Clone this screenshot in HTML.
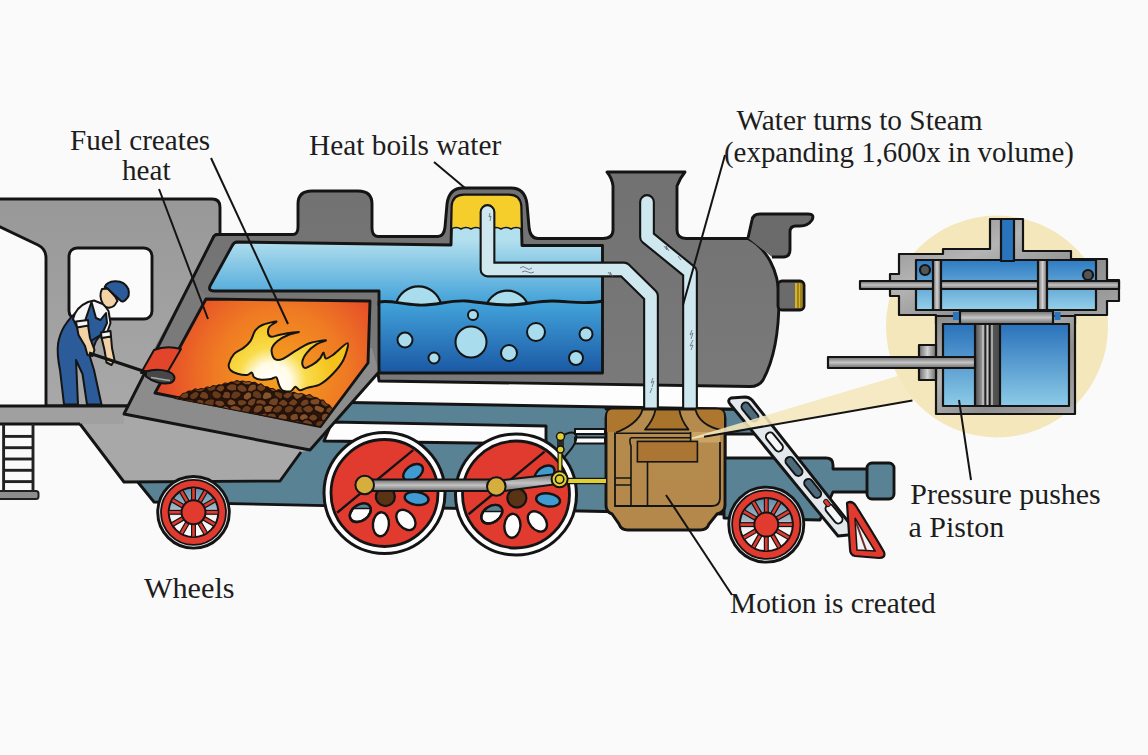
<!DOCTYPE html>
<html><head><meta charset="utf-8"><style>
html,body{margin:0;padding:0;background:#fafafa;width:1148px;height:755px;overflow:hidden}
svg{display:block}
text{font-family:"Liberation Serif",serif;font-size:29px;fill:#1d1d1d}
</style></head><body>
<svg width="1148" height="755" viewBox="0 0 1148 755">
<defs>
<linearGradient id="gCab" x1="0" y1="0" x2="0" y2="1"><stop offset="0" stop-color="#989898"/><stop offset="1" stop-color="#a8a8a8"/></linearGradient>
<linearGradient id="gBoil" gradientUnits="userSpaceOnUse" x1="0" y1="190" x2="0" y2="450"><stop offset="0" stop-color="#727272"/><stop offset="1" stop-color="#7c7c7c"/></linearGradient>
<linearGradient id="gSteam" gradientUnits="userSpaceOnUse" x1="0" y1="240" x2="0" y2="305"><stop offset="0" stop-color="#b3e0ee"/><stop offset="1" stop-color="#3e9fd8"/></linearGradient>
<linearGradient id="gWater" gradientUnits="userSpaceOnUse" x1="0" y1="300" x2="0" y2="373"><stop offset="0" stop-color="#44a6dc"/><stop offset="1" stop-color="#1a58a4"/></linearGradient>
<radialGradient id="gFire" gradientUnits="userSpaceOnUse" cx="280" cy="375" r="120"><stop offset="0" stop-color="#f6a21e"/><stop offset="0.55" stop-color="#ef7a23"/><stop offset="1" stop-color="#e4482a"/></radialGradient>
<radialGradient id="gFlame" gradientUnits="userSpaceOnUse" cx="272" cy="382" r="62"><stop offset="0" stop-color="#ffffff"/><stop offset="0.3" stop-color="#fffbe8"/><stop offset="0.55" stop-color="#f9dc4a"/><stop offset="1" stop-color="#f5c21c"/></radialGradient>
<linearGradient id="gMetal" x1="0" y1="0" x2="0" y2="1"><stop offset="0" stop-color="#6c6c6c"/><stop offset="0.5" stop-color="#c4c4c4"/><stop offset="1" stop-color="#6c6c6c"/></linearGradient>
<linearGradient id="gChest" x1="0" y1="0" x2="1" y2="1"><stop offset="0" stop-color="#8a8a8a"/><stop offset="0.35" stop-color="#b4b4b4"/><stop offset="0.65" stop-color="#8e8e8e"/><stop offset="1" stop-color="#a8a8a8"/></linearGradient>
<linearGradient id="gMetalD" x1="0" y1="0" x2="1" y2="0"><stop offset="0" stop-color="#4a4a4a"/><stop offset="0.3" stop-color="#9a9a9a"/><stop offset="0.6" stop-color="#5a5a5a"/><stop offset="1" stop-color="#4a4a4a"/></linearGradient>
<linearGradient id="gMetalV" x1="0" y1="0" x2="1" y2="0"><stop offset="0" stop-color="#6c6c6c"/><stop offset="0.5" stop-color="#d2d2d2"/><stop offset="1" stop-color="#6c6c6c"/></linearGradient>
<linearGradient id="gCyl" x1="0" y1="0" x2="0" y2="1"><stop offset="0" stop-color="#2a72bb"/><stop offset="1" stop-color="#8ccbe7"/></linearGradient>
<linearGradient id="gCyl2" x1="0" y1="0" x2="0" y2="1"><stop offset="0" stop-color="#2e7bc2"/><stop offset="1" stop-color="#94d0e9"/></linearGradient>
<linearGradient id="gSpokeBg" x1="0" y1="0" x2="0" y2="1"><stop offset="0" stop-color="#5f8eab"/><stop offset="0.42" stop-color="#9fb8c6"/><stop offset="0.58" stop-color="#f2f2f2"/><stop offset="1" stop-color="#fbfbfb"/></linearGradient>
<linearGradient id="gBrown" x1="0" y1="0" x2="0" y2="1"><stop offset="0" stop-color="#b68c4e"/><stop offset="1" stop-color="#b3884a"/></linearGradient>
<clipPath id="cpCoal"><path d="M180,397 C188,392 196,391 205,389 C215,387 222,385 232,383 C240,382 248,382 256,384 C265,387 272,390 280,392 C290,394 300,395 311,397 C319,399 326,404 332,409 L320,426 L175,398 Z"/></clipPath>
</defs>
<rect width="1148" height="755" fill="#fafafa"/>

<circle cx="997" cy="326.5" r="111" fill="#f4e7bb"/>
<path d="M-5,199 H212 Q220,199 220,207 V240 L150,406 H46 V258 Q46,249 38,245 L-5,224.6 Z" fill="url(#gCab)" stroke="#141414" stroke-width="2.9"/>
<rect x="69" y="248" width="83" height="71" rx="8" fill="#fbfbfb" stroke="#141414" stroke-width="2.9"/>
<polygon points="0,406 130,406 124,414 124,424 0,424" fill="#a0a0a0"/>
<path d="M0,406 H130 M0,424 H80" stroke="#141414" stroke-width="2.9"/>
<g stroke="#222" stroke-width="2.9" fill="none"><line x1="3.6" y1="424" x2="3.6" y2="492"/><line x1="33" y1="424" x2="33" y2="492"/><line x1="3.6" y1="436.4" x2="33" y2="436.4"/><line x1="3.6" y1="447.7" x2="33" y2="447.7"/><line x1="3.6" y1="459" x2="33" y2="459"/><line x1="3.6" y1="470.3" x2="33" y2="470.3"/><line x1="3.6" y1="481.6" x2="33" y2="481.6"/></g>
<rect x="-3" y="491" width="41.5" height="8" rx="2.5" fill="#8e8e8e" stroke="#222" stroke-width="2"/>
<path d="M137,481 L300,401 L606,406 L606,409 L745,409 L764,434 L725,434 L725,514 L154,502 Z" fill="#5a8295" stroke="#141414" stroke-width="2.9" stroke-linejoin="round"/>
<polygon points="330,382 757,388 757,409 330,402" fill="#fdfdfd"/>
<line x1="320" y1="402" x2="757" y2="409.5" stroke="#141414" stroke-width="2.9"/>
<polygon points="332,422 546,426 546,444 324,441" fill="#fdfdfd" stroke="#141414" stroke-width="2.9" stroke-linejoin="round"/>
<rect x="575" y="429" width="30" height="5" fill="#fdfdfd" stroke="#141414" stroke-width="2"/>
<rect x="575" y="437.5" width="30" height="6" fill="#fdfdfd" stroke="#141414" stroke-width="2"/>
<path d="M724,458 H826 Q833,458 833,465 V469 H868 V492 H833 L820,520 L724,518 Z" fill="#5a8295" stroke="#141414" stroke-width="2.9" stroke-linejoin="round"/>
<rect x="867" y="463" width="27" height="36" rx="5" fill="#5a8295" stroke="#141414" stroke-width="2.9"/>
<polygon points="80,424 124,424 124,414 312,450 301,452 280,481 124,482" fill="#a8a8a8"/>
<polyline points="80,424 124,482 280,481 301,452" fill="none" stroke="#141414" stroke-width="2.9" stroke-linejoin="round"/>
<path d="M216,234.5 H292 Q298,235 298,227 V204 Q298,191 312,191 H358 Q372,191 372,204 V228 Q372,236.5 378,236.5 H437 Q444,237 445,227 L447,204 Q449,188 463,188 H511 Q525,188 527,204 L529,227 Q530,238.5 538,238.5 H603 Q613,238.5 613,230 V186 Q612,178 607,172 H685 Q680,178 677,186 V230 Q677,238.5 686,238.5 H748 C766,248 779,270 779,298 C779,330 774,360 763,380 Q759,386.5 750,386.5 L379,381 L378,373 L310,450 L124,414 L213,238 Q214,234.5 218,234.5 Z" fill="url(#gBoil)"/>
<polygon points="160,348 372,348 379,373 310,450 124,414" fill="#8c8c8c"/>
<path d="M190,282 L207,296 L181,348 L154,349 Z" fill="#7a7a7a"/>
<path d="M216,234.5 H292 Q298,235 298,227 V204 Q298,191 312,191 H358 Q372,191 372,204 V228 Q372,236.5 378,236.5 H437 Q444,237 445,227 L447,204 Q449,188 463,188 H511 Q525,188 527,204 L529,227 Q530,238.5 538,238.5 H603 Q613,238.5 613,230 V186 Q612,178 607,172 H685 Q680,178 677,186 V230 Q677,238.5 686,238.5 H748 C766,248 779,270 779,298 C779,330 774,360 763,380 Q759,386.5 750,386.5 L379,381 L378,373 L310,450 L124,414 L213,238 Q214,234.5 218,234.5 Z" fill="none" stroke="#141414" stroke-width="2.9" stroke-linejoin="round"/>
<path d="M748,238 L752,220 Q753,214 760,214 H808 Q815,214 812,220 Q808,226 800,226 H796 Q790,226 790,232 V250 Q790,257 783,257 H772" fill="#6b6b6b" stroke="#141414" stroke-width="2.9" stroke-linejoin="round"/>
<rect x="778" y="281" width="26" height="29" rx="4" fill="#6b6b6b"/>
<rect x="795" y="283" width="9" height="25" fill="#d8b22a"/>
<line x1="798" y1="283" x2="798" y2="308" stroke="#6b5410" stroke-width="1"/><line x1="801" y1="283" x2="801" y2="308" stroke="#6b5410" stroke-width="1"/>
<rect x="778" y="281" width="26" height="29" rx="4" fill="none" stroke="#141414" stroke-width="2.9"/>
<path d="M237,242 L451,245 L452,206 Q453,195 464,195 H509 Q520,195 521,206 L522,245.5 H602.5 V305 H379 V291 H214 Q208,291 210,286 L232,246 Q234,242 237,242 Z" fill="url(#gSteam)" stroke="#141414" stroke-width="2.9" stroke-linejoin="round"/>
<path d="M451.5,229 L452,206 Q453,195 464,195 H509 Q520,195 521,206 L521.5,229 Q516,226 511,229 Q506,226 501,229 Q496,226 491,229 Q486,226 481,229 Q476,226 471,229 Q466,226 461,229 Q456,226 451.5,229 Z" fill="#f6ce2c" stroke="#141414" stroke-width="1.5"/>
<path d="M396,304 A23.2,23.2 0 0 1 441,304 Z" fill="#a9dcec"/>
<path d="M486.5,305 A22.2,22.2 0 0 1 528,305 Z" fill="#a9dcec"/>
<path d="M396,304 A23.2,23.2 0 0 1 441,304 M486.5,305 A22.2,22.2 0 0 1 528,305" fill="none" stroke="#141414" stroke-width="2.2"/>
<path d="M379,302 C390,300 400,304 418,305 C436,306 448,300 466,301 C480,302 492,305 508,305 C524,305 536,301 552,301 C568,301 584,305 602.5,301 V373 H379 Z" fill="url(#gWater)" stroke="#141414" stroke-width="2.9" stroke-linejoin="round"/>
<g fill="#a9dcec" stroke="#141414" stroke-width="2"><circle cx="473" cy="315" r="5"/><circle cx="405" cy="340" r="7.5"/><circle cx="471" cy="342" r="15.5"/><circle cx="536" cy="332" r="9"/><circle cx="586" cy="334" r="6.5"/><circle cx="434" cy="358" r="5.5"/><circle cx="509" cy="353" r="8"/><circle cx="576" cy="358" r="7"/></g>
<polygon points="206,299 370,301 368,363 320.5,426.5 155,393" fill="url(#gFire)" stroke="#141414" stroke-width="2.9" stroke-linejoin="round"/>
<path d="M154,350 Q166,345 181,349 L167,373 L141,373 Z" fill="#e3452a" stroke="#141414" stroke-width="2" stroke-linejoin="round"/>
<clipPath id="cpCoal2"><path d="M180.0,397.0 L183.0,393.8 L186.0,393.0 L189.0,391.3 L192.0,391.5 L195.0,389.2 L198.0,390.0 L201.0,388.9 L204.0,389.5 L207.0,387.3 L210.0,388.0 L213.0,386.0 L216.0,386.5 L219.0,385.1 L222.0,385.5 L225.0,383.3 L228.0,384.0 L231.0,382.4 L234.0,382.5 L237.0,380.9 L240.0,382.0 L243.0,381.4 L246.0,382.5 L249.0,381.8 L252.0,383.0 L255.0,382.7 L258.0,385.0 L261.0,384.2 L264.0,387.0 L267.0,387.1 L270.0,389.0 L273.0,388.9 L276.0,391.0 L279.0,389.9 L282.0,392.0 L286.0,390.8 L290.0,393.5 L294.0,392.5 L298.0,394.5 L302.0,394.0 L306.0,396.0 L309.5,394.8 L313.0,397.5 L316.5,398.1 L320.0,400.5 L323.0,400.4 L326.0,404.0 L329.0,405.4 L332.0,409.0 L320,426 L175,398 Z"/></clipPath>
<path d="M180.0,397.0 L183.0,393.8 L186.0,393.0 L189.0,391.3 L192.0,391.5 L195.0,389.2 L198.0,390.0 L201.0,388.9 L204.0,389.5 L207.0,387.3 L210.0,388.0 L213.0,386.0 L216.0,386.5 L219.0,385.1 L222.0,385.5 L225.0,383.3 L228.0,384.0 L231.0,382.4 L234.0,382.5 L237.0,380.9 L240.0,382.0 L243.0,381.4 L246.0,382.5 L249.0,381.8 L252.0,383.0 L255.0,382.7 L258.0,385.0 L261.0,384.2 L264.0,387.0 L267.0,387.1 L270.0,389.0 L273.0,388.9 L276.0,391.0 L279.0,389.9 L282.0,392.0 L286.0,390.8 L290.0,393.5 L294.0,392.5 L298.0,394.5 L302.0,394.0 L306.0,396.0 L309.5,394.8 L313.0,397.5 L316.5,398.1 L320.0,400.5 L323.0,400.4 L326.0,404.0 L329.0,405.4 L332.0,409.0 L320,426 L175,398 Z" fill="#2e170a" stroke="#24110a" stroke-width="1.8" stroke-linejoin="round"/>
<g clip-path="url(#cpCoal2)" stroke="#24110a" stroke-width="1.6"><path d="M178.3,379.1 C178.7,380.1 178.1,381.7 177.3,382.5 C176.6,383.3 175.3,383.8 173.9,384.0 C172.6,384.2 170.3,384.5 169.4,383.9 C168.5,383.2 168.1,381.3 168.4,380.1 C168.7,378.9 170.0,377.5 171.1,376.8 C172.2,376.1 173.9,375.6 175.1,376.0 C176.3,376.3 177.9,378.0 178.3,379.1 Z" fill="#7b4a26"/><path d="M188.1,380.6 C188.2,381.6 187.4,382.6 186.5,383.3 C185.6,384.0 184.0,385.0 182.6,384.9 C181.3,384.9 179.0,383.7 178.2,382.9 C177.5,382.0 177.4,380.9 178.2,379.8 C178.9,378.8 181.3,377.0 182.6,376.6 C183.9,376.2 185.3,376.9 186.2,377.5 C187.1,378.2 188.1,379.7 188.1,380.6 Z" fill="#85532c"/><path d="M200.0,381.1 C200.1,382.2 199.6,383.8 198.3,384.5 C197.1,385.2 193.9,385.4 192.6,385.2 C191.3,385.0 190.7,384.1 190.4,383.1 C190.0,382.1 190.1,380.2 190.7,379.2 C191.2,378.2 192.6,377.4 193.7,377.2 C194.8,376.9 196.3,377.0 197.4,377.6 C198.4,378.2 199.8,379.9 200.0,381.1 Z" fill="#643a1c"/><path d="M209.2,378.6 C209.7,379.7 209.2,382.3 208.3,383.3 C207.5,384.3 205.2,384.6 204.0,384.7 C202.7,384.8 201.7,384.8 200.8,383.9 C200.0,383.1 198.8,380.8 198.9,379.8 C199.0,378.8 200.3,378.4 201.4,377.8 C202.5,377.3 204.3,376.4 205.6,376.6 C206.9,376.7 208.7,377.5 209.2,378.6 Z" fill="#85532c"/><path d="M221.3,380.8 C221.4,381.7 221.6,382.8 220.4,383.4 C219.2,383.9 215.7,384.3 214.2,384.0 C212.7,383.7 212.0,382.6 211.6,381.6 C211.2,380.6 211.1,378.8 211.7,378.0 C212.4,377.2 214.4,376.8 215.7,376.7 C217.0,376.7 218.5,377.0 219.4,377.7 C220.4,378.3 221.1,379.8 221.3,380.8 Z" fill="#85532c"/><path d="M230.4,378.8 C230.8,379.6 230.8,380.6 230.3,381.4 C229.7,382.2 228.3,383.4 227.1,383.8 C225.8,384.3 223.7,384.6 222.9,383.9 C222.0,383.2 221.9,381.0 222.1,379.9 C222.2,378.8 222.9,378.0 223.9,377.5 C224.9,377.0 226.9,376.7 228.0,376.9 C229.1,377.1 230.1,378.1 230.4,378.8 Z" fill="#85532c"/><path d="M242.2,379.1 C242.2,380.0 241.5,381.8 240.9,382.8 C240.3,383.8 239.9,384.7 238.8,384.9 C237.6,385.0 234.9,384.4 234.0,383.8 C233.0,383.1 233.0,382.0 233.2,381.0 C233.4,380.0 233.8,378.2 235.0,377.6 C236.3,376.9 239.3,376.8 240.5,377.1 C241.7,377.3 242.1,378.1 242.2,379.1 Z" fill="#643a1c"/><path d="M252.2,381.9 C252.0,382.8 251.2,384.5 250.0,385.0 C248.8,385.5 246.4,385.1 245.2,384.9 C243.9,384.6 242.9,384.3 242.5,383.4 C242.1,382.5 242.3,380.6 242.9,379.6 C243.4,378.7 244.4,377.8 245.7,377.7 C247.1,377.7 250.1,378.5 251.2,379.2 C252.3,379.9 252.4,380.9 252.2,381.9 Z" fill="#85532c"/><path d="M262.1,384.4 C261.8,385.2 260.1,385.1 258.9,385.1 C257.7,385.1 256.0,385.0 254.7,384.4 C253.4,383.8 251.5,382.7 251.2,381.5 C250.9,380.3 251.9,377.9 252.8,377.2 C253.7,376.4 255.5,376.6 256.8,377.1 C258.2,377.7 260.0,379.2 260.9,380.4 C261.8,381.6 262.5,383.6 262.1,384.4 Z" fill="#6e4020"/><path d="M273.8,380.4 C274.0,381.4 273.6,383.3 272.8,384.2 C271.9,385.0 270.2,385.4 268.7,385.3 C267.1,385.3 264.3,384.7 263.5,384.1 C262.6,383.5 263.4,382.7 263.7,381.7 C264.0,380.7 264.1,378.8 265.4,378.2 C266.6,377.5 269.9,377.7 271.3,378.1 C272.7,378.4 273.5,379.4 273.8,380.4 Z" fill="#704222"/><path d="M284.3,378.6 C284.6,379.6 284.0,382.3 283.0,383.4 C282.1,384.5 279.9,385.2 278.4,385.3 C277.0,385.4 275.1,384.8 274.5,384.2 C273.8,383.5 274.1,382.5 274.4,381.5 C274.8,380.6 275.5,379.0 276.6,378.4 C277.8,377.7 280.0,377.5 281.3,377.6 C282.5,377.6 284.0,377.7 284.3,378.6 Z" fill="#85532c"/><path d="M294.6,381.6 C294.4,382.9 292.8,384.3 291.7,384.7 C290.7,385.1 289.6,384.6 288.3,384.0 C286.9,383.5 284.1,382.6 283.5,381.5 C282.9,380.4 283.8,378.2 284.8,377.3 C285.7,376.5 287.9,376.5 289.2,376.4 C290.5,376.4 291.7,376.1 292.6,377.0 C293.5,377.8 294.7,380.3 294.6,381.6 Z" fill="#6e4020"/><path d="M304.3,381.4 C304.0,382.4 303.0,383.8 301.7,384.2 C300.4,384.6 297.7,384.5 296.3,384.0 C294.9,383.4 293.6,382.2 293.5,381.1 C293.3,380.1 294.4,378.2 295.3,377.5 C296.2,376.7 297.7,376.5 299.0,376.7 C300.3,376.8 302.3,377.6 303.1,378.4 C304.0,379.2 304.5,380.5 304.3,381.4 Z" fill="#85532c"/><path d="M315.0,382.2 C315.0,383.3 313.0,384.7 312.0,385.2 C310.9,385.7 309.8,385.5 308.6,385.2 C307.4,384.8 305.4,384.0 304.6,383.1 C303.9,382.2 303.5,380.8 304.1,379.9 C304.7,379.1 306.7,378.3 308.1,378.1 C309.4,377.9 310.8,378.0 312.0,378.7 C313.1,379.4 315.0,381.2 315.0,382.2 Z" fill="#7b4a26"/><path d="M325.9,379.5 C326.5,380.3 326.3,381.6 325.5,382.6 C324.8,383.5 322.9,384.8 321.4,385.1 C320.0,385.5 317.8,385.5 316.9,384.7 C316.0,383.9 315.9,381.4 316.1,380.4 C316.4,379.3 317.4,378.8 318.4,378.3 C319.3,377.8 320.7,377.2 322.0,377.4 C323.2,377.6 325.3,378.6 325.9,379.5 Z" fill="#643a1c"/><path d="M334.4,381.4 C334.1,382.4 333.2,384.4 332.1,384.8 C331.1,385.2 329.0,384.3 328.0,383.9 C327.1,383.4 326.5,383.1 326.3,382.2 C326.0,381.4 326.0,379.4 326.5,378.6 C326.9,377.7 327.5,377.2 328.8,377.2 C330.1,377.2 333.4,377.9 334.3,378.6 C335.3,379.3 334.8,380.4 334.4,381.4 Z" fill="#643a1c"/><path d="M184.6,387.0 C185.0,388.1 184.5,389.8 183.6,390.6 C182.6,391.4 180.3,391.7 178.9,391.7 C177.5,391.8 176.0,391.7 175.3,391.0 C174.5,390.2 174.1,388.2 174.4,387.2 C174.7,386.2 175.9,385.7 177.0,385.1 C178.1,384.6 179.8,383.6 181.1,383.9 C182.4,384.3 184.2,385.9 184.6,387.0 Z" fill="#85532c"/><path d="M194.9,386.3 C195.3,387.1 195.2,388.5 194.5,389.4 C193.9,390.3 192.1,391.5 190.8,391.6 C189.5,391.7 187.3,390.8 186.6,390.1 C185.8,389.3 185.9,388.1 186.3,387.2 C186.6,386.4 187.7,385.3 188.7,384.9 C189.7,384.4 191.2,384.2 192.3,384.4 C193.3,384.7 194.5,385.4 194.9,386.3 Z" fill="#704222"/><path d="M205.2,386.5 C205.6,387.5 205.5,389.0 204.7,389.9 C204.0,390.8 202.2,391.7 200.6,392.0 C199.1,392.2 196.5,391.9 195.5,391.2 C194.5,390.5 194.1,389.1 194.5,387.9 C194.9,386.6 196.7,384.6 197.9,383.9 C199.2,383.2 200.7,383.2 201.9,383.6 C203.1,384.0 204.7,385.4 205.2,386.5 Z" fill="#6e4020"/><path d="M216.7,386.3 C216.8,387.5 216.2,389.5 215.0,390.4 C213.7,391.2 210.6,391.7 209.2,391.5 C207.9,391.3 207.3,389.9 206.8,389.0 C206.3,388.2 206.0,387.3 206.3,386.5 C206.6,385.6 207.5,384.4 208.8,383.9 C210.2,383.3 213.1,382.9 214.4,383.3 C215.7,383.7 216.6,385.1 216.7,386.3 Z" fill="#643a1c"/><path d="M224.7,386.6 C225.2,387.5 224.7,389.3 224.0,390.2 C223.4,391.2 221.8,392.0 220.7,392.3 C219.5,392.7 218.2,392.7 217.4,392.2 C216.6,391.7 215.9,390.4 215.8,389.5 C215.8,388.6 216.1,387.5 217.0,386.7 C217.9,386.0 220.1,384.8 221.3,384.7 C222.6,384.7 224.3,385.7 224.7,386.6 Z" fill="#704222"/><path d="M237.9,388.6 C237.7,389.6 236.4,390.5 235.1,391.0 C233.9,391.4 231.8,391.6 230.4,391.1 C228.9,390.7 226.8,389.5 226.3,388.5 C225.8,387.6 226.3,386.3 227.2,385.5 C228.1,384.6 230.0,383.6 231.6,383.5 C233.2,383.4 235.7,384.2 236.8,385.1 C237.8,385.9 238.2,387.6 237.9,388.6 Z" fill="#704222"/><path d="M247.8,390.9 C247.6,391.8 246.0,392.0 244.8,392.2 C243.6,392.4 242.0,392.7 240.7,392.2 C239.4,391.7 237.3,390.5 236.9,389.3 C236.4,388.2 237.2,386.0 238.2,385.2 C239.2,384.4 241.5,384.1 242.8,384.5 C244.2,384.8 245.3,386.0 246.2,387.1 C247.0,388.2 248.0,390.1 247.8,390.9 Z" fill="#6e4020"/><path d="M257.4,386.7 C257.7,387.6 257.8,388.3 257.0,389.2 C256.2,390.1 254.0,391.7 252.5,392.1 C251.0,392.5 248.8,392.4 247.9,391.7 C247.1,391.1 247.3,389.5 247.6,388.4 C247.9,387.2 248.6,385.6 249.9,384.8 C251.1,384.1 253.8,383.7 255.1,384.0 C256.3,384.3 257.0,385.8 257.4,386.7 Z" fill="#7b4a26"/><path d="M265.8,387.0 C266.0,387.8 266.2,388.7 265.4,389.5 C264.5,390.4 261.9,391.9 260.6,392.0 C259.2,392.0 257.9,390.7 257.2,389.8 C256.6,388.9 256.2,387.6 256.6,386.6 C257.0,385.7 258.4,384.6 259.7,384.3 C261.0,383.9 263.4,384.1 264.4,384.5 C265.4,385.0 265.6,386.1 265.8,387.0 Z" fill="#6e4020"/><path d="M278.4,389.3 C278.0,390.3 277.5,391.8 276.4,392.1 C275.2,392.4 272.9,391.8 271.6,391.1 C270.4,390.4 268.9,389.0 268.9,387.8 C268.8,386.6 270.2,384.6 271.2,383.9 C272.2,383.1 273.8,383.0 275.0,383.4 C276.3,383.8 278.2,385.3 278.8,386.3 C279.3,387.3 278.8,388.4 278.4,389.3 Z" fill="#7b4a26"/><path d="M287.8,391.0 C287.4,392.0 285.7,392.6 284.6,392.7 C283.5,392.8 282.2,392.2 281.2,391.5 C280.2,390.9 278.8,389.7 278.5,388.8 C278.2,387.8 278.4,386.3 279.4,385.7 C280.3,385.2 283.0,385.4 284.3,385.6 C285.5,385.7 286.3,385.6 286.9,386.5 C287.5,387.4 288.2,390.0 287.8,391.0 Z" fill="#643a1c"/><path d="M298.7,387.3 C298.6,388.2 298.6,389.2 297.4,389.9 C296.3,390.7 293.4,391.8 291.8,391.8 C290.3,391.7 289.0,390.4 288.3,389.7 C287.6,388.9 287.3,388.1 287.8,387.3 C288.2,386.5 289.3,385.1 291.0,384.6 C292.6,384.2 296.4,384.1 297.7,384.6 C299.0,385.0 298.7,386.4 298.7,387.3 Z" fill="#85532c"/><path d="M310.0,387.2 C310.3,388.2 309.8,390.2 309.1,391.1 C308.4,391.9 307.1,392.4 305.8,392.5 C304.4,392.6 302.0,392.2 301.1,391.6 C300.1,391.1 299.9,390.1 300.1,389.1 C300.2,388.2 300.6,386.4 301.8,385.7 C303.1,385.1 306.2,384.9 307.6,385.1 C308.9,385.4 309.7,386.2 310.0,387.2 Z" fill="#7b4a26"/><path d="M319.3,386.2 C319.6,387.0 318.7,388.9 317.6,390.0 C316.5,391.1 314.1,392.5 312.9,392.7 C311.7,392.8 310.9,391.7 310.3,391.0 C309.7,390.3 309.1,389.5 309.4,388.6 C309.6,387.7 310.7,386.3 311.7,385.6 C312.8,385.0 314.3,384.6 315.6,384.7 C316.8,384.8 318.9,385.3 319.3,386.2 Z" fill="#704222"/><path d="M329.3,388.1 C329.0,389.2 327.6,390.8 326.4,391.3 C325.2,391.7 323.3,391.3 322.0,390.7 C320.7,390.1 319.0,388.8 318.6,387.7 C318.2,386.6 318.8,384.9 319.5,384.1 C320.2,383.4 321.2,382.9 322.6,383.1 C324.1,383.2 327.0,384.1 328.1,385.0 C329.2,385.8 329.6,387.1 329.3,388.1 Z" fill="#85532c"/><path d="M342.1,386.6 C342.6,387.5 341.5,389.0 340.8,389.9 C340.0,390.9 339.1,391.7 337.6,392.0 C336.0,392.4 332.5,392.6 331.3,392.1 C330.2,391.5 330.2,389.7 330.6,388.8 C330.9,387.8 332.4,387.2 333.6,386.6 C334.8,385.9 336.3,384.7 337.7,384.7 C339.1,384.7 341.6,385.7 342.1,386.6 Z" fill="#6e4020"/><path d="M179.9,395.7 C179.9,396.8 179.0,398.2 177.9,398.9 C176.7,399.6 174.2,400.0 173.0,399.8 C171.9,399.6 171.4,398.7 170.9,397.8 C170.3,396.9 169.2,395.4 169.7,394.5 C170.3,393.5 172.9,392.5 174.2,392.1 C175.5,391.7 176.6,391.4 177.6,392.0 C178.5,392.6 179.8,394.5 179.9,395.7 Z" fill="#704222"/><path d="M188.8,395.9 C188.7,396.8 188.7,397.6 187.7,398.0 C186.7,398.5 184.3,398.9 182.9,398.6 C181.4,398.3 179.9,397.1 179.2,396.2 C178.4,395.3 178.0,394.1 178.4,393.3 C178.8,392.6 180.2,392.0 181.8,391.9 C183.3,391.8 186.8,392.0 188.0,392.6 C189.2,393.3 188.8,395.0 188.8,395.9 Z" fill="#6e4020"/><path d="M199.2,393.3 C199.6,394.2 199.0,396.0 198.1,397.1 C197.2,398.2 195.1,399.6 193.8,399.9 C192.6,400.2 191.2,399.7 190.5,398.9 C189.7,398.2 189.1,396.5 189.4,395.4 C189.7,394.4 191.3,393.4 192.4,392.7 C193.4,392.0 194.7,391.2 195.8,391.3 C197.0,391.4 198.9,392.3 199.2,393.3 Z" fill="#643a1c"/><path d="M209.0,396.1 C209.1,397.3 208.7,398.8 207.9,399.3 C207.1,399.8 205.5,399.6 204.1,399.3 C202.7,399.0 200.1,398.2 199.4,397.3 C198.7,396.4 199.4,394.7 200.0,393.7 C200.5,392.7 201.7,391.5 202.8,391.3 C204.0,391.1 205.9,391.6 207.0,392.4 C208.0,393.2 208.8,395.0 209.0,396.1 Z" fill="#6e4020"/><path d="M221.9,395.4 C221.7,396.5 220.2,398.3 219.1,398.8 C218.0,399.4 216.2,399.1 215.1,398.7 C214.0,398.4 212.9,397.8 212.4,396.7 C211.9,395.6 211.4,393.3 211.9,392.3 C212.5,391.2 214.2,390.4 215.6,390.4 C216.9,390.4 218.8,391.4 219.9,392.3 C220.9,393.1 222.0,394.3 221.9,395.4 Z" fill="#643a1c"/><path d="M231.3,395.4 C231.5,396.5 231.4,397.5 230.7,398.1 C230.0,398.7 228.5,399.3 227.0,399.1 C225.6,399.0 222.7,397.9 222.0,397.2 C221.2,396.5 222.1,395.8 222.5,394.9 C222.9,393.9 223.1,392.1 224.2,391.5 C225.3,391.0 228.0,390.8 229.2,391.5 C230.4,392.1 231.0,394.3 231.3,395.4 Z" fill="#704222"/><path d="M241.4,394.2 C241.4,395.1 241.0,395.9 239.9,396.8 C238.8,397.7 236.4,399.4 234.9,399.6 C233.3,399.8 231.3,398.7 230.6,397.9 C229.9,397.2 230.3,396.3 230.8,395.2 C231.3,394.0 232.2,391.6 233.7,391.1 C235.1,390.5 238.3,391.1 239.6,391.7 C240.9,392.2 241.3,393.4 241.4,394.2 Z" fill="#643a1c"/><path d="M252.3,394.5 C252.7,395.5 251.9,396.6 251.4,397.5 C250.8,398.5 250.2,399.7 249.0,400.1 C247.8,400.4 245.2,400.3 244.2,399.6 C243.2,399.0 242.8,397.1 243.0,396.1 C243.2,395.0 244.2,394.0 245.3,393.2 C246.3,392.5 248.0,391.4 249.2,391.6 C250.4,391.8 252.0,393.6 252.3,394.5 Z" fill="#85532c"/><path d="M262.1,396.9 C261.8,397.8 261.4,399.3 260.0,399.4 C258.7,399.6 255.5,398.7 254.1,398.0 C252.8,397.3 252.2,396.3 252.1,395.1 C252.0,394.0 252.3,391.8 253.4,391.0 C254.5,390.3 257.1,390.2 258.5,390.7 C259.9,391.2 261.1,393.0 261.7,394.0 C262.3,395.0 262.4,396.0 262.1,396.9 Z" fill="#643a1c"/><path d="M271.7,393.9 C272.0,394.7 272.7,396.5 271.9,397.4 C271.1,398.4 268.4,399.2 266.9,399.5 C265.3,399.8 263.4,399.7 262.7,399.0 C261.9,398.2 262.0,396.3 262.5,395.0 C262.9,393.8 264.2,392.0 265.5,391.5 C266.7,391.1 268.9,391.9 269.9,392.3 C271.0,392.7 271.3,393.0 271.7,393.9 Z" fill="#85532c"/><path d="M283.4,396.1 C283.0,397.1 282.0,398.9 281.0,399.3 C280.0,399.6 278.5,398.8 277.4,398.1 C276.2,397.3 274.7,396.1 274.3,395.0 C273.9,393.9 274.0,392.1 274.8,391.5 C275.7,391.0 277.9,391.3 279.3,391.6 C280.7,391.9 282.7,392.5 283.4,393.3 C284.1,394.0 283.8,395.1 283.4,396.1 Z" fill="#643a1c"/><path d="M292.8,394.2 C293.1,395.1 292.1,396.0 291.3,396.8 C290.4,397.6 288.9,399.0 287.8,399.1 C286.6,399.3 285.1,398.6 284.2,397.9 C283.4,397.2 282.2,395.9 282.5,395.0 C282.8,394.0 285.0,392.8 286.1,392.2 C287.3,391.6 288.3,391.2 289.4,391.6 C290.5,391.9 292.5,393.4 292.8,394.2 Z" fill="#704222"/><path d="M303.6,395.1 C303.7,396.1 302.7,396.6 301.6,397.4 C300.4,398.2 298.1,399.7 296.9,399.8 C295.7,399.9 294.9,398.8 294.1,397.8 C293.4,396.9 292.3,395.3 292.6,394.3 C293.0,393.3 295.0,392.5 296.4,392.0 C297.7,391.5 299.6,390.8 300.8,391.3 C302.0,391.9 303.5,394.1 303.6,395.1 Z" fill="#85532c"/><path d="M315.0,396.9 C314.8,397.9 314.7,398.8 313.4,399.1 C312.1,399.4 308.6,399.1 307.2,398.6 C305.8,398.1 305.2,397.0 304.9,395.9 C304.7,394.8 305.0,392.9 305.8,392.2 C306.5,391.4 308.0,391.2 309.5,391.4 C311.0,391.6 314.0,392.5 315.0,393.4 C315.9,394.3 315.3,396.0 315.0,396.9 Z" fill="#6e4020"/><path d="M324.2,395.5 C324.2,396.6 323.4,398.0 322.5,398.8 C321.5,399.6 319.8,400.1 318.5,400.2 C317.3,400.2 315.8,400.1 315.0,399.1 C314.2,398.2 313.3,395.7 313.7,394.5 C314.1,393.2 316.1,392.0 317.5,391.6 C319.0,391.2 321.4,391.3 322.5,392.0 C323.6,392.6 324.2,394.3 324.2,395.5 Z" fill="#7b4a26"/><path d="M335.4,394.8 C335.4,395.8 335.5,397.3 334.5,397.9 C333.4,398.4 330.5,398.3 329.1,398.0 C327.6,397.8 326.4,397.2 325.8,396.5 C325.2,395.8 325.0,394.6 325.5,393.7 C326.0,392.8 327.5,391.5 328.9,391.2 C330.4,390.9 333.1,391.3 334.2,391.9 C335.3,392.5 335.3,393.8 335.4,394.8 Z" fill="#643a1c"/><path d="M184.2,401.8 C184.6,402.7 185.1,403.8 184.2,404.6 C183.4,405.3 180.5,406.1 178.9,406.1 C177.4,406.1 175.4,405.4 174.7,404.5 C174.0,403.6 174.2,401.4 174.7,400.5 C175.3,399.6 176.8,399.4 178.0,399.1 C179.2,398.9 181.0,398.5 182.0,398.9 C183.1,399.4 183.8,400.8 184.2,401.8 Z" fill="#85532c"/><path d="M194.5,404.4 C194.4,405.5 193.6,406.5 192.3,406.7 C191.0,406.9 187.7,406.2 186.6,405.5 C185.4,404.8 185.6,403.3 185.4,402.4 C185.2,401.5 184.7,400.6 185.4,400.1 C186.2,399.7 188.9,399.5 190.2,399.5 C191.5,399.6 192.7,399.7 193.4,400.5 C194.1,401.4 194.7,403.4 194.5,404.4 Z" fill="#643a1c"/><path d="M205.8,404.4 C205.3,405.3 203.5,406.9 202.2,407.1 C201.0,407.4 199.1,406.7 198.1,406.0 C197.2,405.3 196.8,403.9 196.6,402.8 C196.5,401.7 196.4,400.2 197.2,399.6 C197.9,399.0 199.7,399.0 201.0,399.3 C202.3,399.6 204.2,400.6 205.0,401.5 C205.8,402.3 206.2,403.4 205.8,404.4 Z" fill="#6e4020"/><path d="M215.4,401.4 C215.6,402.4 215.0,403.9 214.1,404.7 C213.2,405.6 211.6,406.7 210.0,406.6 C208.5,406.5 205.6,405.0 204.7,404.2 C203.8,403.3 203.7,402.3 204.4,401.5 C205.0,400.6 207.4,399.4 208.8,399.0 C210.2,398.5 211.8,398.3 212.9,398.7 C214.0,399.1 215.2,400.4 215.4,401.4 Z" fill="#643a1c"/><path d="M225.1,404.4 C224.9,405.4 223.3,406.5 222.1,406.8 C220.9,407.1 219.0,406.8 217.8,406.3 C216.5,405.8 214.7,404.7 214.4,403.7 C214.1,402.7 215.0,401.1 215.8,400.4 C216.7,399.8 218.4,399.9 219.6,399.9 C220.8,400.0 222.3,400.1 223.2,400.9 C224.1,401.6 225.2,403.5 225.1,404.4 Z" fill="#704222"/><path d="M236.1,402.6 C236.4,403.4 236.4,404.3 235.5,404.9 C234.6,405.5 232.2,406.2 230.8,406.1 C229.3,406.0 227.5,404.8 226.9,404.0 C226.3,403.2 226.6,402.2 227.1,401.3 C227.6,400.4 228.8,399.0 229.9,398.7 C231.0,398.4 232.8,399.1 233.8,399.7 C234.8,400.4 235.8,401.7 236.1,402.6 Z" fill="#7b4a26"/><path d="M247.4,402.9 C247.3,403.9 245.0,405.2 243.7,405.7 C242.4,406.2 240.8,406.4 239.7,406.0 C238.6,405.7 237.6,404.3 237.3,403.4 C237.0,402.4 237.3,400.9 238.0,400.2 C238.7,399.5 240.5,399.2 241.6,399.1 C242.6,399.1 243.5,399.3 244.5,399.9 C245.5,400.5 247.5,402.0 247.4,402.9 Z" fill="#6e4020"/><path d="M256.8,400.0 C257.1,400.9 256.6,402.1 255.9,403.2 C255.1,404.3 253.5,405.9 252.2,406.4 C250.9,406.8 248.8,406.3 248.0,405.8 C247.2,405.2 247.0,403.9 247.2,402.9 C247.4,401.9 248.0,400.4 249.1,399.5 C250.3,398.7 252.8,397.8 254.1,397.8 C255.4,397.9 256.5,399.1 256.8,400.0 Z" fill="#704222"/><path d="M266.3,404.2 C266.1,405.1 265.4,405.9 264.4,406.4 C263.4,406.8 261.7,407.3 260.2,406.8 C258.7,406.3 256.1,404.5 255.6,403.4 C255.0,402.2 256.2,400.6 256.9,399.9 C257.7,399.2 258.9,399.0 260.3,399.1 C261.7,399.2 264.4,399.8 265.4,400.6 C266.4,401.5 266.4,403.2 266.3,404.2 Z" fill="#704222"/><path d="M278.8,400.4 C279.0,401.7 278.9,404.0 278.2,404.9 C277.5,405.9 276.2,406.0 274.8,406.0 C273.3,406.1 270.7,405.6 269.6,405.1 C268.5,404.5 268.1,403.6 268.3,402.6 C268.5,401.5 269.3,399.5 270.8,398.7 C272.3,397.9 275.9,397.3 277.3,397.6 C278.6,397.9 278.7,399.2 278.8,400.4 Z" fill="#704222"/><path d="M288.7,403.2 C288.9,404.2 287.9,405.2 286.7,405.8 C285.6,406.4 283.4,407.0 282.0,406.8 C280.6,406.6 279.0,405.2 278.4,404.5 C277.8,403.7 277.6,403.3 278.3,402.4 C279.0,401.6 281.4,399.6 282.6,399.1 C283.8,398.7 284.4,399.2 285.4,399.8 C286.4,400.5 288.5,402.2 288.7,403.2 Z" fill="#6e4020"/><path d="M297.7,401.3 C298.4,402.2 298.2,403.1 297.4,404.0 C296.7,404.9 294.5,406.4 293.0,406.7 C291.6,407.0 289.4,406.5 288.6,405.8 C287.8,405.1 288.0,403.6 288.3,402.7 C288.5,401.9 289.2,401.1 290.2,400.4 C291.1,399.7 292.4,398.4 293.7,398.5 C295.0,398.7 297.1,400.4 297.7,401.3 Z" fill="#6e4020"/><path d="M309.3,401.5 C309.6,402.4 309.5,403.4 308.9,404.1 C308.3,404.9 307.1,405.7 305.8,406.1 C304.5,406.5 302.0,406.8 301.1,406.3 C300.1,405.8 299.7,404.2 300.1,403.1 C300.5,402.0 302.1,400.1 303.3,399.4 C304.6,398.8 306.5,398.7 307.5,399.0 C308.5,399.4 309.1,400.7 309.3,401.5 Z" fill="#6e4020"/><path d="M320.4,401.0 C320.5,402.1 319.5,404.4 318.4,405.1 C317.3,405.8 315.3,405.5 313.9,405.2 C312.6,405.0 311.1,404.4 310.4,403.7 C309.7,402.9 309.3,401.4 309.8,400.6 C310.2,399.8 311.7,399.0 313.0,398.7 C314.3,398.3 316.5,398.0 317.7,398.4 C319.0,398.8 320.3,399.9 320.4,401.0 Z" fill="#7b4a26"/><path d="M332.1,402.6 C331.9,403.8 329.4,405.4 328.2,406.2 C327.1,406.9 326.3,407.5 325.0,407.1 C323.8,406.7 321.1,404.9 320.5,403.7 C319.9,402.5 320.8,400.8 321.5,400.0 C322.1,399.3 322.8,399.3 324.1,399.1 C325.4,399.0 328.0,398.6 329.3,399.1 C330.6,399.7 332.2,401.4 332.1,402.6 Z" fill="#6e4020"/><path d="M339.8,402.6 C339.6,403.6 338.8,405.6 337.7,406.2 C336.6,406.8 334.6,406.4 333.4,406.1 C332.1,405.9 330.5,405.5 330.1,404.7 C329.7,404.0 330.3,402.4 330.9,401.5 C331.5,400.6 332.5,399.4 333.8,399.1 C335.1,398.9 337.6,399.5 338.6,400.0 C339.6,400.6 339.9,401.6 339.8,402.6 Z" fill="#704222"/><path d="M179.8,409.0 C179.6,410.1 177.8,412.1 176.8,412.8 C175.8,413.5 175.1,413.5 173.8,413.1 C172.5,412.8 169.8,411.4 169.1,410.5 C168.5,409.6 169.4,408.7 170.1,407.8 C170.8,407.0 172.0,405.6 173.2,405.4 C174.5,405.2 176.7,406.0 177.8,406.6 C178.9,407.2 179.9,408.0 179.8,409.0 Z" fill="#643a1c"/><path d="M190.6,408.1 C191.1,409.2 190.7,410.0 189.9,410.9 C189.1,411.8 187.2,413.2 185.9,413.5 C184.6,413.8 182.7,413.4 181.8,412.6 C181.0,411.7 180.3,409.6 180.6,408.5 C180.9,407.3 182.8,406.1 183.9,405.5 C185.0,404.8 185.9,404.2 187.0,404.6 C188.2,405.1 190.1,407.1 190.6,408.1 Z" fill="#85532c"/><path d="M200.3,408.3 C200.6,409.4 200.3,411.3 199.5,412.3 C198.7,413.2 196.9,413.8 195.4,413.9 C194.0,413.9 191.9,413.2 190.9,412.6 C190.0,412.0 189.2,411.3 189.7,410.1 C190.1,409.0 192.2,406.7 193.6,405.9 C195.0,405.2 197.0,405.2 198.2,405.6 C199.3,406.0 200.1,407.2 200.3,408.3 Z" fill="#7b4a26"/><path d="M210.7,407.7 C210.9,408.8 210.2,411.0 209.5,412.0 C208.8,413.0 207.6,413.4 206.3,413.6 C205.0,413.8 202.7,413.7 201.7,413.1 C200.7,412.5 199.9,411.0 200.3,409.8 C200.7,408.7 202.8,407.1 204.0,406.3 C205.3,405.6 206.8,405.2 207.9,405.4 C209.0,405.7 210.4,406.6 210.7,407.7 Z" fill="#85532c"/><path d="M221.8,409.5 C222.1,410.3 221.4,411.3 220.3,412.1 C219.3,412.9 216.8,414.0 215.6,414.3 C214.3,414.5 213.6,414.0 212.8,413.4 C212.1,412.8 210.9,411.7 211.1,410.7 C211.4,409.7 213.0,408.0 214.3,407.4 C215.6,406.8 217.8,406.7 219.1,407.0 C220.3,407.4 221.6,408.6 221.8,409.5 Z" fill="#7b4a26"/><path d="M230.2,408.9 C230.3,409.9 229.7,411.8 228.9,412.7 C228.1,413.6 226.6,414.5 225.3,414.4 C224.1,414.4 222.2,413.1 221.5,412.3 C220.8,411.4 220.8,410.5 221.3,409.4 C221.8,408.3 223.3,406.1 224.4,405.6 C225.6,405.2 227.3,406.2 228.3,406.8 C229.2,407.4 230.1,408.0 230.2,408.9 Z" fill="#85532c"/><path d="M242.1,410.3 C241.7,411.2 239.9,412.9 238.7,413.3 C237.5,413.7 236.3,413.5 234.9,412.8 C233.5,412.1 231.0,410.1 230.4,408.9 C229.7,407.8 230.0,406.7 231.1,406.1 C232.1,405.6 235.0,405.2 236.6,405.4 C238.2,405.7 239.9,407.0 240.8,407.8 C241.7,408.6 242.4,409.4 242.1,410.3 Z" fill="#7b4a26"/><path d="M251.1,407.4 C251.5,408.4 250.9,410.2 250.1,411.3 C249.4,412.3 247.9,413.3 246.6,413.5 C245.3,413.7 243.1,413.4 242.2,412.7 C241.4,411.9 241.2,410.2 241.6,409.0 C242.0,407.8 243.8,406.2 244.8,405.6 C245.8,405.0 246.7,405.0 247.8,405.3 C248.8,405.6 250.7,406.4 251.1,407.4 Z" fill="#643a1c"/><path d="M263.1,405.9 C263.6,407.0 262.6,409.7 261.9,410.8 C261.2,411.9 260.4,412.3 259.1,412.7 C257.8,413.1 255.2,413.9 254.2,413.4 C253.2,412.9 252.7,411.2 253.0,409.9 C253.3,408.6 254.7,406.3 255.8,405.4 C256.8,404.5 258.0,404.4 259.2,404.4 C260.4,404.5 262.7,404.8 263.1,405.9 Z" fill="#704222"/><path d="M274.4,409.5 C274.2,410.5 273.4,411.5 272.0,412.1 C270.6,412.6 267.5,413.0 266.2,412.8 C264.9,412.5 264.8,411.7 264.3,410.7 C263.8,409.7 262.8,407.7 263.4,406.7 C264.0,405.8 266.3,405.2 267.9,405.1 C269.5,405.0 271.9,405.4 273.0,406.2 C274.1,406.9 274.5,408.5 274.4,409.5 Z" fill="#85532c"/><path d="M282.7,407.3 C283.1,408.4 282.2,410.2 281.3,411.2 C280.5,412.2 279.0,413.3 277.5,413.4 C276.0,413.5 273.3,412.5 272.5,411.9 C271.6,411.2 271.8,410.5 272.3,409.5 C272.8,408.5 274.5,406.9 275.6,406.1 C276.7,405.3 277.7,404.6 278.9,404.8 C280.0,405.0 282.3,406.2 282.7,407.3 Z" fill="#643a1c"/><path d="M293.9,407.1 C294.4,408.0 294.1,409.5 293.2,410.5 C292.4,411.5 290.3,412.9 288.9,413.2 C287.5,413.5 285.5,412.8 284.7,412.0 C284.0,411.2 284.2,409.3 284.6,408.3 C284.9,407.3 285.7,406.6 286.7,406.1 C287.6,405.5 289.2,405.0 290.4,405.2 C291.6,405.3 293.4,406.3 293.9,407.1 Z" fill="#643a1c"/><path d="M305.0,410.4 C305.0,411.4 303.3,412.3 302.3,412.7 C301.2,413.2 300.1,413.5 298.8,413.2 C297.5,412.9 295.1,412.1 294.5,411.2 C294.0,410.3 294.9,408.8 295.6,407.8 C296.3,406.9 297.7,405.6 298.8,405.5 C300.0,405.4 301.6,406.3 302.6,407.1 C303.6,407.9 305.1,409.5 305.0,410.4 Z" fill="#643a1c"/><path d="M313.8,409.7 C313.6,410.7 311.9,412.2 310.8,412.8 C309.6,413.3 308.3,413.5 306.8,412.9 C305.4,412.4 302.8,410.3 302.3,409.3 C301.8,408.3 302.9,407.8 303.9,407.0 C304.8,406.3 306.9,405.1 308.2,405.0 C309.6,404.8 311.1,405.6 312.0,406.4 C312.9,407.1 314.0,408.6 313.8,409.7 Z" fill="#6e4020"/><path d="M324.6,410.4 C324.2,411.3 322.8,413.1 321.6,413.4 C320.5,413.6 319.2,412.6 317.9,412.0 C316.7,411.4 314.9,410.8 314.3,409.8 C313.8,408.7 313.9,406.4 314.7,405.6 C315.5,404.9 317.7,405.0 319.3,405.4 C320.9,405.8 323.5,407.2 324.4,408.0 C325.3,408.8 325.1,409.5 324.6,410.4 Z" fill="#85532c"/><path d="M336.0,410.0 C336.0,411.2 334.0,412.8 332.9,413.4 C331.8,414.0 330.8,413.9 329.6,413.7 C328.4,413.5 326.5,412.8 325.8,412.2 C325.2,411.6 325.4,410.8 325.7,409.9 C326.0,409.1 326.4,407.8 327.6,407.3 C328.8,406.7 331.4,406.2 332.8,406.7 C334.2,407.2 336.0,408.9 336.0,410.0 Z" fill="#6e4020"/><path d="M184.1,416.7 C183.8,417.6 182.1,419.2 180.8,419.7 C179.5,420.3 177.7,420.3 176.5,420.1 C175.4,419.8 174.2,419.3 173.7,418.4 C173.2,417.5 173.0,415.7 173.6,414.7 C174.2,413.7 176.0,412.6 177.5,412.5 C179.1,412.3 181.9,413.1 183.0,413.8 C184.1,414.5 184.5,415.7 184.1,416.7 Z" fill="#6e4020"/><path d="M194.7,416.9 C194.3,417.7 192.9,419.4 191.6,419.9 C190.4,420.3 188.4,419.8 187.4,419.4 C186.4,418.9 186.0,418.4 185.8,417.4 C185.7,416.4 185.7,414.1 186.5,413.3 C187.3,412.5 189.2,412.3 190.5,412.5 C191.7,412.7 193.4,413.8 194.1,414.5 C194.8,415.2 195.1,416.0 194.7,416.9 Z" fill="#7b4a26"/><path d="M205.0,419.3 C204.7,420.3 203.6,420.5 202.2,420.5 C200.9,420.6 197.9,420.4 196.8,419.7 C195.6,419.0 195.5,417.4 195.5,416.2 C195.4,415.1 195.4,413.5 196.4,412.9 C197.4,412.3 200.1,412.4 201.5,412.8 C202.8,413.1 203.7,413.8 204.2,414.8 C204.8,415.9 205.3,418.4 205.0,419.3 Z" fill="#7b4a26"/><path d="M214.7,418.2 C214.5,419.3 214.1,420.7 212.9,421.1 C211.7,421.6 208.7,421.8 207.5,421.2 C206.3,420.5 205.7,418.4 205.4,417.1 C205.2,415.9 205.2,414.3 206.1,413.6 C207.0,412.9 209.5,412.9 210.8,413.1 C212.2,413.2 213.6,413.6 214.2,414.5 C214.9,415.3 214.9,417.1 214.7,418.2 Z" fill="#704222"/><path d="M226.0,418.3 C226.0,419.3 225.1,420.7 224.2,421.2 C223.3,421.7 221.7,421.8 220.4,421.4 C219.1,421.0 217.0,419.6 216.4,418.8 C215.8,417.9 216.0,417.2 216.7,416.3 C217.4,415.5 219.5,413.9 220.7,413.7 C222.0,413.5 223.3,414.4 224.2,415.2 C225.1,416.0 226.0,417.3 226.0,418.3 Z" fill="#643a1c"/><path d="M236.9,418.4 C236.5,419.5 234.7,420.2 233.6,420.5 C232.5,420.8 231.2,420.7 230.1,420.0 C229.0,419.4 227.1,417.5 226.8,416.4 C226.5,415.2 227.2,413.9 228.1,413.3 C228.9,412.6 230.8,412.6 232.1,412.7 C233.4,412.7 235.1,412.6 235.9,413.6 C236.7,414.5 237.3,417.2 236.9,418.4 Z" fill="#643a1c"/><path d="M247.2,415.4 C247.3,416.3 246.4,418.1 245.7,419.0 C244.9,419.9 243.8,420.8 242.5,420.8 C241.2,420.9 238.8,419.8 237.9,419.1 C236.9,418.4 236.4,417.2 236.8,416.4 C237.2,415.5 239.1,414.4 240.5,413.9 C241.9,413.4 244.1,413.1 245.2,413.3 C246.4,413.6 247.1,414.4 247.2,415.4 Z" fill="#704222"/><path d="M257.1,414.9 C257.5,415.9 257.8,417.9 257.1,418.8 C256.5,419.8 254.4,420.9 253.2,420.8 C251.9,420.8 250.1,419.4 249.3,418.7 C248.6,417.9 248.5,417.0 248.6,416.1 C248.7,415.3 249.1,414.0 250.1,413.4 C251.1,412.9 253.7,412.5 254.8,412.8 C256.0,413.0 256.7,413.9 257.1,414.9 Z" fill="#6e4020"/><path d="M269.3,416.4 C269.4,417.3 268.2,417.9 267.3,418.7 C266.4,419.4 265.4,420.8 264.0,421.0 C262.5,421.3 259.4,420.8 258.6,420.1 C257.8,419.3 258.7,417.7 259.3,416.6 C259.8,415.5 260.5,414.1 261.7,413.5 C262.9,412.9 265.0,412.5 266.3,413.0 C267.5,413.5 269.1,415.4 269.3,416.4 Z" fill="#6e4020"/><path d="M276.5,417.9 C276.2,418.9 274.9,419.9 273.9,420.3 C272.9,420.6 271.4,420.5 270.3,420.0 C269.2,419.6 267.9,418.5 267.4,417.5 C267.0,416.5 266.7,414.9 267.5,414.1 C268.4,413.2 271.0,412.6 272.4,412.6 C273.8,412.7 275.1,413.4 275.8,414.2 C276.5,415.1 276.8,416.9 276.5,417.9 Z" fill="#6e4020"/><path d="M287.7,417.4 C287.7,418.6 286.3,420.6 285.4,421.2 C284.4,421.8 283.2,421.2 282.0,421.1 C280.8,421.0 278.9,421.4 278.2,420.6 C277.5,419.9 277.6,417.7 278.0,416.6 C278.3,415.5 279.1,414.6 280.2,414.1 C281.4,413.6 283.7,413.2 285.0,413.7 C286.2,414.3 287.6,416.1 287.7,417.4 Z" fill="#7b4a26"/><path d="M298.5,416.0 C298.7,417.1 299.2,418.7 298.5,419.6 C297.7,420.4 295.5,420.9 294.2,420.9 C292.8,421.0 291.0,420.5 290.3,419.7 C289.6,418.8 289.6,416.7 290.1,415.7 C290.5,414.7 292.0,413.9 293.2,413.5 C294.4,413.1 296.4,413.0 297.3,413.4 C298.2,413.8 298.4,415.0 298.5,416.0 Z" fill="#7b4a26"/><path d="M308.5,419.3 C308.1,420.2 307.2,421.1 306.0,421.4 C304.9,421.6 302.9,421.4 301.8,420.8 C300.6,420.3 299.0,419.1 299.0,418.0 C299.0,416.9 300.7,414.8 301.7,414.0 C302.7,413.3 303.9,413.2 305.0,413.5 C306.1,413.8 307.7,414.9 308.3,415.8 C308.9,416.8 308.8,418.4 308.5,419.3 Z" fill="#85532c"/><path d="M318.1,417.8 C318.2,418.8 317.1,419.5 316.3,420.1 C315.4,420.7 314.1,421.7 312.9,421.5 C311.6,421.4 309.4,419.8 308.7,419.0 C308.0,418.2 308.0,417.7 308.6,416.9 C309.1,416.0 310.8,414.3 312.0,413.9 C313.2,413.5 314.7,413.8 315.8,414.5 C316.8,415.1 318.0,416.9 318.1,417.8 Z" fill="#704222"/><path d="M329.9,415.4 C330.4,416.4 330.0,418.4 329.3,419.3 C328.6,420.2 326.9,420.7 325.7,420.9 C324.4,421.2 322.7,421.6 322.0,420.9 C321.2,420.2 321.0,418.0 321.1,416.9 C321.1,415.8 321.5,414.9 322.3,414.2 C323.2,413.5 324.9,412.8 326.2,413.0 C327.5,413.2 329.4,414.3 329.9,415.4 Z" fill="#7b4a26"/><path d="M339.0,417.1 C339.1,418.0 338.8,419.4 337.9,420.0 C337.0,420.7 335.2,421.0 333.7,420.9 C332.3,420.8 330.0,420.4 329.4,419.5 C328.8,418.7 329.5,416.9 330.1,416.0 C330.8,415.1 332.1,414.3 333.3,414.1 C334.6,413.9 336.4,414.3 337.4,414.8 C338.3,415.3 338.9,416.3 339.0,417.1 Z" fill="#6e4020"/><path d="M181.0,423.5 C180.9,424.5 179.5,426.2 178.5,426.9 C177.4,427.6 176.0,428.2 174.6,427.9 C173.3,427.6 171.4,426.0 170.6,425.2 C169.8,424.3 169.3,423.5 169.8,422.8 C170.3,422.1 172.1,421.1 173.6,420.9 C175.1,420.6 177.5,420.8 178.7,421.2 C180.0,421.7 181.0,422.6 181.0,423.5 Z" fill="#704222"/><path d="M188.6,422.4 C188.9,423.4 188.5,425.4 187.8,426.2 C187.1,427.1 185.8,427.3 184.4,427.4 C183.0,427.4 180.1,427.1 179.3,426.5 C178.4,426.0 178.6,425.2 179.1,424.3 C179.5,423.3 180.8,421.6 182.0,420.9 C183.2,420.2 185.0,419.7 186.1,420.0 C187.2,420.2 188.3,421.3 188.6,422.4 Z" fill="#6e4020"/><path d="M201.7,424.0 C201.7,425.1 199.5,426.8 198.5,427.5 C197.4,428.1 196.5,428.2 195.2,428.0 C193.8,427.7 191.3,427.1 190.6,426.1 C189.9,425.0 190.2,422.5 191.0,421.4 C191.8,420.3 194.2,419.7 195.4,419.5 C196.6,419.3 197.4,419.6 198.4,420.4 C199.5,421.1 201.7,422.8 201.7,424.0 Z" fill="#643a1c"/><path d="M209.9,423.6 C209.9,424.6 208.5,426.0 207.5,426.8 C206.5,427.6 205.4,428.6 204.0,428.4 C202.6,428.1 199.6,426.4 198.9,425.3 C198.1,424.3 198.6,422.9 199.5,421.9 C200.4,421.0 203.0,420.1 204.3,419.8 C205.6,419.6 206.4,420.0 207.3,420.6 C208.3,421.2 209.8,422.5 209.9,423.6 Z" fill="#643a1c"/><path d="M220.8,421.9 C221.4,422.8 221.6,424.2 221.1,425.2 C220.7,426.2 219.2,427.5 217.9,427.9 C216.6,428.4 214.5,428.2 213.4,427.8 C212.2,427.4 210.6,426.8 210.7,425.5 C210.9,424.3 213.3,421.3 214.5,420.3 C215.6,419.4 216.6,419.6 217.6,419.9 C218.7,420.2 220.2,421.1 220.8,421.9 Z" fill="#7b4a26"/><path d="M231.8,424.2 C231.6,425.4 229.8,427.1 228.5,427.8 C227.3,428.5 225.6,428.8 224.4,428.5 C223.1,428.2 221.6,427.2 221.1,426.1 C220.5,425.0 220.3,423.0 221.1,422.0 C221.9,421.1 224.3,420.4 225.8,420.2 C227.2,420.0 228.8,420.2 229.9,420.9 C230.9,421.5 232.1,423.1 231.8,424.2 Z" fill="#6e4020"/><path d="M240.8,423.4 C240.6,424.3 239.2,426.4 238.0,427.1 C236.9,427.7 235.5,427.6 234.2,427.4 C232.9,427.1 231.1,426.5 230.5,425.6 C229.9,424.7 229.9,422.7 230.6,421.9 C231.2,421.0 232.8,420.5 234.4,420.4 C235.9,420.4 238.7,421.0 239.8,421.5 C240.9,422.0 241.1,422.5 240.8,423.4 Z" fill="#6e4020"/><path d="M252.1,425.7 C251.8,426.8 250.3,427.9 249.2,428.3 C248.1,428.8 246.6,428.5 245.4,428.3 C244.3,428.1 242.9,427.8 242.3,426.9 C241.7,426.1 241.2,424.1 241.6,423.1 C242.0,422.0 243.2,420.7 244.8,420.5 C246.4,420.3 250.0,420.9 251.3,421.7 C252.5,422.6 252.5,424.6 252.1,425.7 Z" fill="#643a1c"/><path d="M263.8,425.7 C263.4,426.6 261.7,428.2 260.1,428.4 C258.6,428.7 255.9,427.7 254.6,427.1 C253.3,426.4 252.3,425.6 252.2,424.6 C252.1,423.5 253.1,421.6 254.0,421.0 C254.9,420.3 256.2,420.4 257.6,420.7 C259.0,421.0 261.3,421.9 262.3,422.8 C263.4,423.6 264.1,424.7 263.8,425.7 Z" fill="#643a1c"/><path d="M272.9,422.1 C273.3,423.0 272.4,424.4 271.5,425.5 C270.7,426.5 269.1,428.3 267.8,428.7 C266.5,429.1 264.8,428.4 263.8,427.8 C262.7,427.2 261.6,426.3 261.6,425.2 C261.6,424.1 262.6,421.8 263.9,421.0 C265.1,420.2 267.6,420.1 269.1,420.3 C270.6,420.5 272.5,421.3 272.9,422.1 Z" fill="#643a1c"/><path d="M282.6,422.0 C282.9,423.1 282.2,425.0 281.3,426.1 C280.4,427.1 278.8,428.1 277.4,428.3 C276.0,428.6 274.0,428.2 273.1,427.5 C272.3,426.8 272.0,425.3 272.2,424.3 C272.4,423.3 273.2,422.2 274.4,421.4 C275.6,420.6 278.0,419.5 279.4,419.6 C280.7,419.7 282.2,420.9 282.6,422.0 Z" fill="#6e4020"/><path d="M294.2,424.0 C293.8,425.0 291.9,426.5 290.7,427.1 C289.5,427.7 288.4,427.9 287.2,427.4 C286.0,426.9 284.2,425.2 283.6,424.2 C283.0,423.2 283.0,422.1 283.5,421.4 C284.1,420.7 285.4,420.1 286.9,420.0 C288.5,419.9 291.7,420.4 292.9,421.1 C294.1,421.7 294.5,423.0 294.2,424.0 Z" fill="#704222"/><path d="M303.4,426.6 C302.9,427.5 301.0,428.4 299.6,428.5 C298.3,428.5 296.3,427.7 295.3,426.9 C294.2,426.1 293.4,424.6 293.2,423.7 C292.9,422.8 293.0,422.2 293.7,421.6 C294.5,421.1 296.1,420.1 297.6,420.4 C299.0,420.6 301.5,421.9 302.5,423.0 C303.5,424.0 303.8,425.7 303.4,426.6 Z" fill="#85532c"/><path d="M312.7,425.0 C312.5,425.8 311.8,426.5 310.7,426.8 C309.5,427.2 307.4,427.8 306.0,427.2 C304.6,426.6 302.5,424.4 302.3,423.1 C302.0,421.9 303.7,420.3 304.6,419.7 C305.5,419.1 306.3,419.2 307.5,419.5 C308.8,419.9 311.2,421.1 312.1,422.0 C312.9,422.9 312.9,424.2 312.7,425.0 Z" fill="#704222"/><path d="M325.3,424.2 C325.0,425.1 323.4,425.9 322.5,426.4 C321.6,427.0 321.1,427.7 320.0,427.5 C318.9,427.4 316.3,426.3 315.6,425.4 C315.0,424.5 315.5,423.0 316.0,422.2 C316.6,421.3 317.6,420.6 318.9,420.4 C320.2,420.2 323.0,420.5 324.0,421.1 C325.1,421.7 325.5,423.3 325.3,424.2 Z" fill="#643a1c"/><path d="M333.6,424.4 C333.7,425.3 333.6,425.8 332.9,426.4 C332.1,427.0 330.3,427.9 329.1,427.8 C327.8,427.8 326.1,426.8 325.3,426.1 C324.5,425.5 323.6,424.7 324.0,423.9 C324.4,423.0 326.5,421.5 327.8,420.9 C329.1,420.4 330.9,420.1 331.9,420.7 C332.8,421.2 333.4,423.4 333.6,424.4 Z" fill="#6e4020"/></g>
<path d="M228.8,364.4 C229.3,361.9 231.9,356.3 234.1,353.8 C236.3,351.3 241.0,349.8 243.5,347.9 C246.0,346.0 248.8,343.5 250.6,340.9 C252.4,338.3 253.5,332.7 255.3,330.3 C257.1,327.9 259.1,326.3 262.3,325.0 C265.5,323.7 275.3,321.2 276.4,321.5 C277.5,321.8 270.6,325.0 269.4,326.8 C268.2,328.6 267.9,332.3 268.2,333.8 C268.5,335.3 269.8,336.7 271.7,336.8 C273.6,336.9 277.0,335.1 281.1,334.4 C285.2,333.7 297.7,331.9 298.8,332.0 C299.9,332.1 291.4,333.7 288.2,335.0 C285.0,336.3 280.1,338.8 277.6,340.9 C275.1,343.0 272.2,346.5 271.7,349.1 C271.2,351.7 272.5,357.0 274.1,358.5 C275.7,360.0 279.0,360.3 282.3,359.1 C285.6,357.9 292.3,352.7 296.4,350.3 C300.5,347.9 305.0,344.7 309.4,343.2 C313.8,341.7 324.8,340.1 325.8,340.3 C326.9,340.5 319.2,342.6 316.4,344.4 C313.6,346.2 309.1,350.0 307.0,352.6 C304.9,355.2 302.6,359.7 302.3,362.0 C302.0,364.3 303.1,367.5 304.7,367.9 C306.3,368.3 310.6,365.8 312.9,364.4 C315.2,363.0 318.4,360.3 320.0,358.5 C321.6,356.7 322.6,352.6 323.5,352.6 C324.4,352.6 324.4,358.1 325.8,358.5 C327.2,358.9 329.6,357.3 332.9,355.0 C336.2,352.7 346.0,342.5 347.6,343.2 C349.2,343.9 345.7,355.1 343.5,359.7 C341.3,364.3 336.4,370.1 332.9,373.8 C329.4,377.5 323.9,382.3 320.0,384.4 C316.1,386.5 310.0,387.0 307.0,387.9 C304.0,388.8 301.8,390.5 300.0,390.3 C298.2,390.1 296.7,386.5 295.3,386.7 C293.9,386.9 292.6,390.9 290.6,391.4 C288.7,391.9 284.1,391.4 282.3,390.3 C280.5,389.2 279.7,386.3 278.8,384.4 C277.9,382.4 277.6,378.1 276.4,377.3 C275.2,376.5 272.9,378.7 270.6,379.1 C268.3,379.5 263.7,380.0 261.2,379.7 C258.7,379.4 255.5,378.4 254.1,377.3 C252.7,376.2 252.9,372.9 251.8,372.6 C250.7,372.3 249.1,374.8 247.0,375.0 C244.9,375.2 240.1,374.5 237.6,373.8 C235.1,373.1 231.9,371.7 230.6,370.3 C229.3,368.9 228.3,366.9 228.8,364.4 Z" fill="url(#gFlame)" stroke="#141414" stroke-width="2" stroke-linejoin="round"/>
<g fill="none" stroke-linejoin="round" stroke-linecap="round">
<polyline points="487.5,212 487.5,269.5 624,269.5 651,296 651,412" stroke="#141414" stroke-width="15.8"/><polyline points="647,202 647,237 690,272 690,412" stroke="#141414" stroke-width="15.8"/>
<polyline points="487.5,212 487.5,269.5 624,269.5 651,296 651,412" stroke="#cfe8f0" stroke-width="11.6"/><polyline points="647,202 647,237 690,272 690,412" stroke="#cfe8f0" stroke-width="11.6"/>
</g>
<g fill="none" stroke="#556" stroke-width="1" opacity="0.7"><path d="M692,330 l-2,5 l3,-2 l-2,6 M693,340 l-3,6 l3,-1 l-2,5"/><path d="M653,378 l-2,5 l3,-2 l-2,6 M652,388 l-2,5"/><path d="M520,268 q3,-3 6,0 q3,3 6,0 M522,272 q3,-2 6,0 q3,2 6,0"/><path d="M664,246 l3,4 l-1,-4 l3,5 M678,256 l3,4"/><path d="M608,272 l3,4 l-1,-4 l3,5"/><path d="M490,213 l-1,4 l2,-1 l-1,5"/></g>
<path d="M614,409 H716 Q725,409 725,418 V505 Q725,512 717,514 L709,524 Q707,530 700,530 H628 Q621,530 619,524 L612,514 Q606,512 606,505 V418 Q606,409 614,409 Z" fill="url(#gBrown)" stroke="#141414" stroke-width="2.9"/>
<path d="M612,409.5 H642 C640,420 628,428 616,432 L607,432 V416 Q607,409.5 612,409.5 Z" fill="#ad772f"/>
<path d="M695.5,409.5 C698,420 708,427 720,429.5 L724,430 V416 Q724,409.5 718,409.5 Z" fill="#ad772f"/>
<path d="M655.5,409.7 C654,418 649,425 645,429.5 H688.5 C684,424 680.5,417 679.3,409.7 Z" fill="#a8732a" stroke="#141414" stroke-width="1.8" stroke-linejoin="round"/>
<path d="M642.5,409.5 C640,420 628,428 616,432.5 M695.5,409.5 C698,420 708,427 721,430" fill="none" stroke="#141414" stroke-width="1.8"/>
<rect x="690.6" y="432" width="29.4" height="10.5" fill="#c9a465"/>
<path d="M616,433.2 H691 M630.6,437.8 H691 M690.6,432 V442.5" fill="none" stroke="#141414" stroke-width="1.6"/>
<rect x="637.4" y="441.4" width="60" height="20.4" fill="#ab7633" stroke="#141414" stroke-width="1.6"/>
<path d="M615,432.5 V506 H712 Q720,506 720,498 V442" fill="none" stroke="#141414" stroke-width="1.8"/>
<path d="M630.6,437.8 Q629,441 631,446 V506" fill="none" stroke="#141414" stroke-width="1.6"/>
<line x1="647.5" y1="461.8" x2="647.5" y2="506" stroke="#141414" stroke-width="1.6"/>
<line x1="615" y1="478" x2="631" y2="478" stroke="#141414" stroke-width="1.5"/><line x1="615" y1="485" x2="631" y2="485" stroke="#141414" stroke-width="1.5"/>
<g transform="translate(384.5 493)"><circle r="60.5" fill="#fdfdfd" stroke="#141414" stroke-width="3"/><circle r="53.5" fill="#e13a2f" stroke="#141414" stroke-width="2.8"/><ellipse rx="11" ry="7" fill="#3f9bd2" stroke="#141414" stroke-width="2.4" transform="translate(28.6 -20.5) rotate(-35)"/><ellipse rx="12" ry="6.5" fill="#3f9bd2" stroke="#141414" stroke-width="2.4" transform="translate(32.1 5.4) rotate(8)"/><ellipse rx="11.5" ry="8" fill="#fdfdfd" stroke="#141414" stroke-width="2.4" transform="translate(21.4 26.9) rotate(50)"/><ellipse rx="12" ry="8" fill="#fdfdfd" stroke="#141414" stroke-width="2.4" transform="translate(-3.6 31.3) rotate(95)"/><ellipse rx="11.5" ry="8" fill="#fdfdfd" stroke="#141414" stroke-width="2.4" transform="translate(-24.2 19.7) rotate(145)"/><clipPath id="cpH384"><ellipse rx="11.5" ry="8" transform="translate(-24.2 19.7) rotate(145)"/></clipPath><rect x="-40" y="0" width="35" height="15.5" fill="#5a8295" clip-path="url(#cpH384)"/><ellipse rx="11.5" ry="8" fill="none" stroke="#141414" stroke-width="2.4" transform="translate(-24.2 19.7) rotate(145)"/><line x1="-36" y1="15.5" x2="-12" y2="15.5" stroke="#141414" stroke-width="1.5" clip-path="url(#cpH384)"/><line x1="-47.4" y1="19.7" x2="28.6" y2="-42.9" stroke="#141414" stroke-width="2.4"/><circle cx="0.9" cy="3.6" r="9.5" fill="#5a3315" stroke="#141414" stroke-width="2.2"/></g>
<g transform="translate(516 494.5)"><circle r="60.5" fill="#fdfdfd" stroke="#141414" stroke-width="3"/><circle r="53.5" fill="#e13a2f" stroke="#141414" stroke-width="2.8"/><ellipse rx="11" ry="7" fill="#3f9bd2" stroke="#141414" stroke-width="2.4" transform="translate(28.6 -20.5) rotate(-35)"/><ellipse rx="12" ry="6.5" fill="#3f9bd2" stroke="#141414" stroke-width="2.4" transform="translate(32.1 5.4) rotate(8)"/><ellipse rx="11.5" ry="8" fill="#fdfdfd" stroke="#141414" stroke-width="2.4" transform="translate(21.4 26.9) rotate(50)"/><ellipse rx="12" ry="8" fill="#fdfdfd" stroke="#141414" stroke-width="2.4" transform="translate(-3.6 31.3) rotate(95)"/><ellipse rx="11.5" ry="8" fill="#fdfdfd" stroke="#141414" stroke-width="2.4" transform="translate(-24.2 19.7) rotate(145)"/><clipPath id="cpH516"><ellipse rx="11.5" ry="8" transform="translate(-24.2 19.7) rotate(145)"/></clipPath><rect x="-40" y="0" width="35" height="17.0" fill="#5a8295" clip-path="url(#cpH516)"/><ellipse rx="11.5" ry="8" fill="none" stroke="#141414" stroke-width="2.4" transform="translate(-24.2 19.7) rotate(145)"/><line x1="-36" y1="17.0" x2="-12" y2="17.0" stroke="#141414" stroke-width="1.5" clip-path="url(#cpH516)"/><line x1="-47.4" y1="19.7" x2="28.6" y2="-42.9" stroke="#141414" stroke-width="2.4"/><circle cx="0.9" cy="3.6" r="9.5" fill="#5a3315" stroke="#141414" stroke-width="2.2"/></g>
<g transform="translate(193.5 512.3)"><circle r="35.8" fill="#e8e8e8" stroke="#141414" stroke-width="2.9"/><circle r="32.5" fill="#e13a2f" stroke="#141414" stroke-width="1.8"/><circle r="24.799999999999997" fill="url(#gSpokeBg)" stroke="#141414" stroke-width="2"/><rect x="0" y="-1.9" width="24.799999999999997" height="3.8" fill="#e13a2f" stroke="#141414" stroke-width="1.2" transform="rotate(0)"/><rect x="0" y="-1.9" width="24.799999999999997" height="3.8" fill="#e13a2f" stroke="#141414" stroke-width="1.2" transform="rotate(30)"/><rect x="0" y="-1.9" width="24.799999999999997" height="3.8" fill="#e13a2f" stroke="#141414" stroke-width="1.2" transform="rotate(60)"/><rect x="0" y="-1.9" width="24.799999999999997" height="3.8" fill="#e13a2f" stroke="#141414" stroke-width="1.2" transform="rotate(90)"/><rect x="0" y="-1.9" width="24.799999999999997" height="3.8" fill="#e13a2f" stroke="#141414" stroke-width="1.2" transform="rotate(120)"/><rect x="0" y="-1.9" width="24.799999999999997" height="3.8" fill="#e13a2f" stroke="#141414" stroke-width="1.2" transform="rotate(150)"/><rect x="0" y="-1.9" width="24.799999999999997" height="3.8" fill="#e13a2f" stroke="#141414" stroke-width="1.2" transform="rotate(180)"/><rect x="0" y="-1.9" width="24.799999999999997" height="3.8" fill="#e13a2f" stroke="#141414" stroke-width="1.2" transform="rotate(210)"/><rect x="0" y="-1.9" width="24.799999999999997" height="3.8" fill="#e13a2f" stroke="#141414" stroke-width="1.2" transform="rotate(240)"/><rect x="0" y="-1.9" width="24.799999999999997" height="3.8" fill="#e13a2f" stroke="#141414" stroke-width="1.2" transform="rotate(270)"/><rect x="0" y="-1.9" width="24.799999999999997" height="3.8" fill="#e13a2f" stroke="#141414" stroke-width="1.2" transform="rotate(300)"/><rect x="0" y="-1.9" width="24.799999999999997" height="3.8" fill="#e13a2f" stroke="#141414" stroke-width="1.2" transform="rotate(330)"/><circle r="12" fill="#e13a2f" stroke="#141414" stroke-width="2"/></g>
<g transform="translate(766.3 524.6)"><circle r="37.5" fill="#e8e8e8" stroke="#141414" stroke-width="2.9"/><circle r="34.2" fill="#e13a2f" stroke="#141414" stroke-width="1.8"/><circle r="26.5" fill="url(#gSpokeBg)" stroke="#141414" stroke-width="2"/><rect x="0" y="-1.9" width="26.5" height="3.8" fill="#e13a2f" stroke="#141414" stroke-width="1.2" transform="rotate(0)"/><rect x="0" y="-1.9" width="26.5" height="3.8" fill="#e13a2f" stroke="#141414" stroke-width="1.2" transform="rotate(30)"/><rect x="0" y="-1.9" width="26.5" height="3.8" fill="#e13a2f" stroke="#141414" stroke-width="1.2" transform="rotate(60)"/><rect x="0" y="-1.9" width="26.5" height="3.8" fill="#e13a2f" stroke="#141414" stroke-width="1.2" transform="rotate(90)"/><rect x="0" y="-1.9" width="26.5" height="3.8" fill="#e13a2f" stroke="#141414" stroke-width="1.2" transform="rotate(120)"/><rect x="0" y="-1.9" width="26.5" height="3.8" fill="#e13a2f" stroke="#141414" stroke-width="1.2" transform="rotate(150)"/><rect x="0" y="-1.9" width="26.5" height="3.8" fill="#e13a2f" stroke="#141414" stroke-width="1.2" transform="rotate(180)"/><rect x="0" y="-1.9" width="26.5" height="3.8" fill="#e13a2f" stroke="#141414" stroke-width="1.2" transform="rotate(210)"/><rect x="0" y="-1.9" width="26.5" height="3.8" fill="#e13a2f" stroke="#141414" stroke-width="1.2" transform="rotate(240)"/><rect x="0" y="-1.9" width="26.5" height="3.8" fill="#e13a2f" stroke="#141414" stroke-width="1.2" transform="rotate(270)"/><rect x="0" y="-1.9" width="26.5" height="3.8" fill="#e13a2f" stroke="#141414" stroke-width="1.2" transform="rotate(300)"/><rect x="0" y="-1.9" width="26.5" height="3.8" fill="#e13a2f" stroke="#141414" stroke-width="1.2" transform="rotate(330)"/><circle r="12" fill="#e13a2f" stroke="#141414" stroke-width="2"/></g>
<rect x="364" y="479.5" width="133" height="11.5" fill="url(#gMetal)" stroke="#141414" stroke-width="2"/>
<polygon points="496,481 556,474 558,484 496,492" fill="url(#gMetal)" stroke="#141414" stroke-width="2"/>
<circle cx="364.7" cy="485" r="9.3" fill="#d6ae3e" stroke="#141414" stroke-width="2"/>
<circle cx="496.3" cy="486.5" r="9.3" fill="#d6ae3e" stroke="#141414" stroke-width="2"/>
<path d="M562,436 C572,430 578,432 576,440 C574,448 568,452 564,458" fill="none" stroke="#141414" stroke-width="2"/>
<rect x="557" y="436" width="7" height="15" fill="#2a2a2a"/>
<line x1="560" y1="450" x2="560" y2="474" stroke="#141414" stroke-width="5"/><line x1="560" y1="450" x2="560" y2="474" stroke="#e0d030" stroke-width="2.6"/>
<line x1="566" y1="481" x2="606" y2="481" stroke="#141414" stroke-width="6.5"/><line x1="566" y1="481" x2="606" y2="481" stroke="#e0d030" stroke-width="4"/>
<circle cx="560.5" cy="436.5" r="4" fill="#e0d030" stroke="#141414" stroke-width="1.5"/>
<circle cx="560.5" cy="449.5" r="3.5" fill="#e0d030" stroke="#141414" stroke-width="1.5"/>
<circle cx="559.6" cy="479.3" r="8" fill="#e0d030" stroke="#141414" stroke-width="2"/>
<circle cx="559.6" cy="479.3" r="4.2" fill="#e0d030" stroke="#141414" stroke-width="1.5"/>
<path d="M731,398 Q727,400 730,404 L838,536 L858,534 L752,400 Q749,397 745,397 Z" fill="#e2e8ec" stroke="#141414" stroke-width="2.9" stroke-linejoin="round"/>
<rect x="-11" y="-4.2" width="22" height="8.4" rx="4.2" fill="#4d6b7d" stroke="#141414" stroke-width="2" transform="translate(750 412) rotate(51.0)"/>
<rect x="-11" y="-4.2" width="22" height="8.4" rx="4.2" fill="#f4f6f7" stroke="#141414" stroke-width="2" transform="translate(774.4 442) rotate(51.0)"/>
<rect x="-11" y="-4.2" width="22" height="8.4" rx="4.2" fill="#4d6b7d" stroke="#141414" stroke-width="2" transform="translate(794 466.4) rotate(51.0)"/>
<rect x="-11" y="-4.2" width="22" height="8.4" rx="4.2" fill="#4d6b7d" stroke="#141414" stroke-width="2" transform="translate(812.7 488.4) rotate(51.0)"/>
<rect x="-11" y="-4.2" width="22" height="8.4" rx="4.2" fill="#f4f6f7" stroke="#141414" stroke-width="2" transform="translate(834 514) rotate(51.0)"/>
<rect x="-4" y="-2.2" width="8" height="4.4" rx="2" fill="#e13a2f" stroke="#141414" stroke-width="1" transform="translate(827 503) rotate(51.0)"/>
<path d="M847,503 Q852,500 856,506 C866,522 876,538 884,552 Q886,558 879,558 L855,556 Q850,555 850,549 Z" fill="#e13a2f" stroke="#141414" stroke-width="2.2" stroke-linejoin="round"/>
<path d="M855,518 C862,530 869,541 875,551 L857,550 Z" fill="#f2f2f2" stroke="#141414" stroke-width="1.5"/>
<line x1="856" y1="522" x2="866" y2="550" stroke="#6a2a2a" stroke-width="2"/>
<polygon points="692,437.5 898,376 906,377 913,401 692,439" fill="#f4e7bb" opacity="0.88"/>
<line x1="704" y1="436.8" x2="912.4" y2="400.6" stroke="#141414" stroke-width="2"/>
<g stroke="#141414" stroke-width="2.2" stroke-linejoin="round">
<path d="M990,219 H1023 V251 H1071 V259 H1107 V280 H1119 V301 H1107 V315 H1075 V324 H1052 V311 H960 V324 H936 V315 H899 V296 H890 V274 H899 V254 H943 V249 H990 Z" fill="url(#gChest)"/>
<rect x="916" y="260" width="180" height="50" fill="url(#gCyl2)"/>
<path d="M1001,219 H1014 V261 H1001 Z" fill="#2a74bd"/>
<path d="M936,316 H1075 V414 H936 Z" fill="url(#gChest)"/>
<rect x="943" y="324" width="126" height="82" fill="url(#gCyl)"/>
<rect x="960" y="311" width="93" height="13" fill="url(#gMetal)"/>
<rect x="975" y="324" width="25" height="82" fill="url(#gMetalD)"/>
<rect x="919" y="345" width="17" height="35" fill="url(#gMetalV)"/>
<rect x="828" y="357" width="147" height="11" fill="url(#gMetal)"/>
<rect x="860" y="281" width="259" height="8" fill="url(#gMetal)"/>
<rect x="933" y="260" width="8" height="50" fill="url(#gMetalV)"/>
<rect x="1038" y="260" width="9" height="50" fill="url(#gMetalV)"/>
<circle cx="925" cy="270" r="5" fill="#555"/><circle cx="1088" cy="275" r="5" fill="#555"/>
</g>
<g stroke="#c8c8c8" stroke-width="1.4"><line x1="983" y1="325" x2="983" y2="405"/><line x1="987.5" y1="325" x2="987.5" y2="405"/><line x1="992" y1="325" x2="992" y2="405"/></g>
<g stroke="#141414" stroke-width="1.3"><line x1="985.2" y1="325" x2="985.2" y2="405"/><line x1="989.7" y1="325" x2="989.7" y2="405"/></g>
<rect x="953" y="312" width="6" height="8" fill="#2a74bd"/><rect x="1054.5" y="312" width="6" height="8" fill="#2a74bd"/>
<g stroke="#141414" stroke-width="2" stroke-linejoin="round">
<path d="M78,311 C68,319 60,331 58,344 C57,352 58,360 60,370 L64,404.5 L78,404.5 L76,360 L82.5,374 L87,404.5 L101.5,404.5 L94,370 L90,357 L96,341 L103,332 L97,316 Z" fill="#2b5b99"/>
<path d="M73,319 C75,310 81,305 88,302 L94,300.5 L104,304.5 L108.5,311 L110.5,323 L106,336 L99,334 L96,319 L88,323 L77,327 Z" fill="#f6f6f6"/>
<path d="M91.5,302 L96,318 L100.5,320 L106,313 L107,323 L102,334 L91,341 L82,331 L86,318 Z" fill="#2b5b99"/>
<path d="M77,327 L88,325 L90,338 L94.5,350 L92.5,356 L87.5,355 L85,346 L78.5,335 Z" fill="#f3d3a6"/>
<path d="M101.5,337.5 L111,336.5 L112,348 L114.5,360 L111.5,365 L106.5,362.5 L104.5,350 Z" fill="#f3d3a6"/>
<path d="M76,321.5 L88,320 L88.5,325.5 L77,327.5 Z" fill="#f6f6f6"/>
<path d="M101,332.5 L110.5,331 L111,336.5 L101.5,338 Z" fill="#f6f6f6"/>
<path d="M102,289 C100,293 100,299 103,304 C105,307 108,308 110,307.5 C113,307 115,305.5 116,303 L117.5,301 L115.5,297 L108,288.5 Z" fill="#f3d3a6"/>
<path d="M104.7,287 C106,283.5 110,281.5 115,281.2 C121,281 126,284 128.3,289 C129.5,293 128.5,297.5 125.5,300 C124,301.5 122,302 121,301 L107.5,288.5 Z" fill="#2b5b99"/>
</g>
<line x1="89" y1="353" x2="152" y2="374" stroke="#141414" stroke-width="3"/>
<path d="M146,371.5 C155,368.5 166,369.5 172,373.5 C176,376.5 175,381.5 170,383 C162,384.5 152,381.5 146,376.5 Z" fill="#474747" stroke="#141414" stroke-width="2"/>
<path d="M151,377.5 C158,378.5 165,380 170,380.5" fill="none" stroke="#a8a8a8" stroke-width="1.5"/>
<g stroke="#141414" stroke-width="2" fill="none">
<line x1="159" y1="189" x2="208" y2="319"/>
<line x1="211" y1="158" x2="288" y2="324"/>
<line x1="434" y1="162" x2="465" y2="188"/>
<line x1="725" y1="155" x2="683" y2="305"/>
<line x1="959" y1="400" x2="971" y2="480"/>
<line x1="666" y1="495" x2="732" y2="595"/>
</g>
<text x="70" y="150" style="font-size:29.2px">Fuel creates</text>
<text x="122" y="180" style="font-size:29.2px">heat</text>
<text x="309" y="155" style="font-size:29.35px">Heat boils water</text>
<text x="736.5" y="130" style="font-size:29.35px">Water turns to Steam</text>
<text x="724" y="162" style="font-size:28.9px">(expanding 1,600x in volume)</text>
<text x="144" y="598" style="font-size:30.2px">Wheels</text>
<text x="730" y="613" style="font-size:29.4px">Motion is created</text>
<text x="910.3" y="504.3" style="font-size:29.95px">Pressure pushes</text>
<text x="908.5" y="537" style="font-size:29.95px">a Piston</text>
</svg>
</body></html>
